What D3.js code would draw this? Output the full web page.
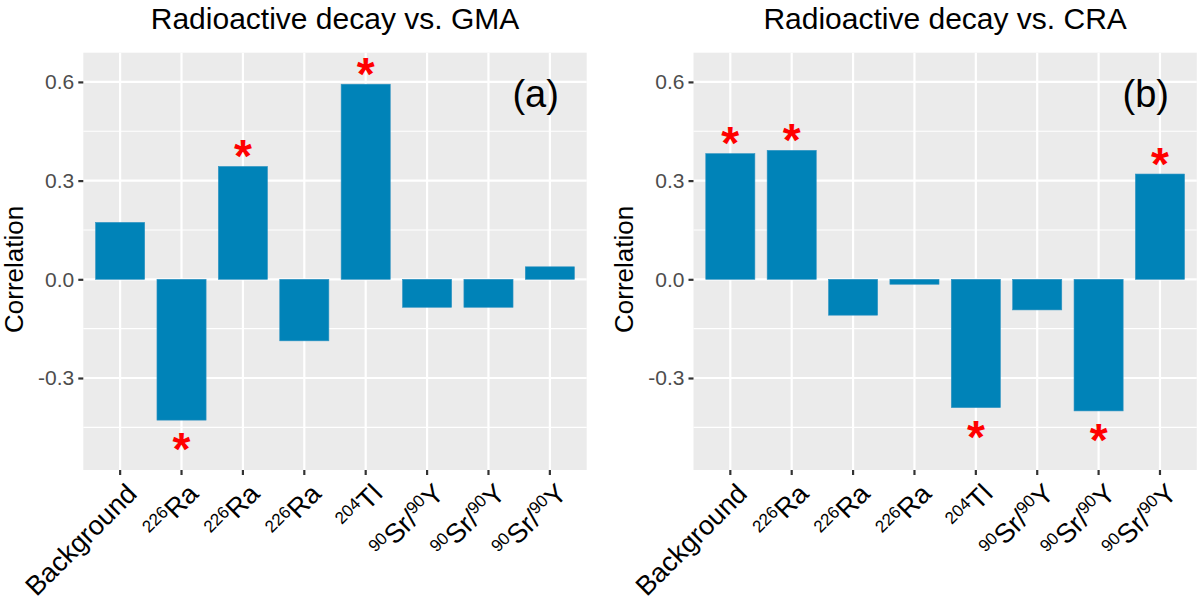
<!DOCTYPE html>
<html>
<head>
<meta charset="utf-8">
<script src="https://cdn.jsdelivr.net/npm/d3@7"></script>
<style>
  body { margin: 0; background: #fff; }
  text { font-family: "Liberation Sans", Arial, sans-serif; }
</style>
</head>
<body>
<div id="chart"></div>
<script>
// Categories (second item true = superscript)
const categories = [
    [["Background", false]],
    [["226", true], ["Ra", false]],
    [["226", true], ["Ra", false]],
    [["226", true], ["Ra", false]],
    [["204", true], ["Tl", false]],
    [["90", true], ["Sr/", false], ["90", true], ["Y", false]],
    [["90", true], ["Sr/", false], ["90", true], ["Y", false]],
    [["90", true], ["Sr/", false], ["90", true], ["Y", false]]
];

// Correlation values
const gmaValues = [0.173, -0.428, 0.343, -0.187, 0.593, -0.085, -0.085, 0.038];
const craValues = [0.382, 0.392, -0.109, -0.015, -0.390, -0.093, -0.400, 0.320];

// Significance (red asterisk)
const gmaSig = [false, true, true, false, true, false, false, false];
const craSig = [true, true, false, false, true, false, true, true];

const yTicks = [-0.3, 0.0, 0.3, 0.6];
const yMinor = [-0.45, -0.15, 0.15, 0.45];

const panels = [
    {title: "Radioactive decay vs. GMA", tag: "(a)", values: gmaValues, sig: gmaSig, left: 83.3, right: 586.7},
    {title: "Radioactive decay vs. CRA", tag: "(b)", values: craValues, sig: craSig, left: 693.5, right: 1196.8}
];

const width = 1200, height = 609;
const plotTop = 52.7, plotBottom = 470;

var svg = d3.select("#chart").append("svg")
    .attr("width", width)
    .attr("height", height);

var y = d3.scaleLinear()
    .domain([-0.5796, 0.6888])
    .range([plotBottom, plotTop]);

panels.forEach(p => {
    var g = svg.append("g");

    // ggplot style: bar width 0.8, 0.6 expansion each side
    var x = d3.scaleBand()
        .domain(d3.range(categories.length))
        .range([p.left, p.right])
        .paddingInner(0.2)
        .paddingOuter(0.2);

    // band centers
    var xc = i => x(i) + x.bandwidth() / 2;

    // Panel background
    g.append("rect")
        .attr("x", p.left).attr("y", plotTop)
        .attr("width", p.right - p.left).attr("height", plotBottom - plotTop)
        .attr("fill", "#ebebeb");

    // Minor grid
    g.selectAll(".minor").data(yMinor).enter().append("line")
        .attr("x1", p.left).attr("x2", p.right)
        .attr("y1", d => y(d)).attr("y2", d => y(d))
        .attr("stroke", "#fff").attr("stroke-width", 1.1);

    // Major grid
    g.selectAll(".major").data(yTicks).enter().append("line")
        .attr("x1", p.left).attr("x2", p.right)
        .attr("y1", d => y(d)).attr("y2", d => y(d))
        .attr("stroke", "#fff").attr("stroke-width", 2.2);

    g.selectAll(".vgrid").data(d3.range(categories.length)).enter().append("line")
        .attr("x1", d => xc(d)).attr("x2", d => xc(d))
        .attr("y1", plotTop).attr("y2", plotBottom)
        .attr("stroke", "#fff").attr("stroke-width", 2.2);

    // Bars
    g.selectAll(".bar").data(p.values).enter().append("rect")
        .attr("x", (d, i) => x(i))
        .attr("width", x.bandwidth())
        .attr("y", d => y(Math.max(0, d)))
        .attr("height", d => Math.abs(y(d) - y(0)))
        .attr("fill", "#0083b8")
        .attr("stroke", "#2f93c2")
        .attr("stroke-width", 0.6);

    // Asterisks (glyph centre about 0.555em above baseline)
    g.selectAll(".star").data(p.values.map((v, i) => ({v: v, i: i})).filter(d => p.sig[d.i]))
        .enter().append("text")
        .attr("x", d => xc(d.i))
        .attr("y", d => y(d.v + (d.v > 0 ? 0.06 : -0.06)) + 25.5)
        .attr("text-anchor", "middle")
        .attr("font-size", "46px")
        .attr("font-weight", "bold")
        .attr("fill", "#ff0000")
        .text("*");

    // Y axis
    var yAxis = g.append("g")
        .attr("transform", "translate(" + p.left + ",0)")
        .call(d3.axisLeft(y).tickValues(yTicks).tickFormat(d3.format(".1f")).tickSize(5).tickPadding(4));
    yAxis.select(".domain").remove();
    yAxis.selectAll(".tick line").attr("stroke", "#333").attr("stroke-width", 2.2);
    yAxis.selectAll(".tick text")
        .attr("font-size", "21px")
        .attr("fill", "#4d4d4d")
        .attr("font-family", "Liberation Sans, Arial, sans-serif")
        .text(d => d3.format(".1f")(d).replace("−", "-"));

    // X ticks
    g.selectAll(".xtick").data(d3.range(categories.length)).enter().append("line")
        .attr("x1", d => xc(d)).attr("x2", d => xc(d))
        .attr("y1", plotBottom).attr("y2", plotBottom + 5)
        .attr("stroke", "#333").attr("stroke-width", 2.2);

    // X labels, rotated 45 degrees
    categories.forEach((parts, i) => {
        var t = g.append("text")
            .attr("transform", "translate(" + (xc(i) + 4) + "," + (plotBottom + 11) + ") rotate(-45)")
            .attr("text-anchor", "end")
            .attr("dy", "0.75em")
            .attr("font-size", "27px")
            .attr("fill", "#000");
        parts.forEach(part => {
            var s = t.append("tspan").text(part[0]);
            if (part[1]) s.attr("font-size", "17px").style("baseline-shift", "9px");
        });
    });

    // Y label
    g.append("text")
        .attr("transform", "translate(" + (p.left - 60.5) + "," + ((plotTop + plotBottom) / 2 + 8) + ") rotate(-90)")
        .attr("text-anchor", "middle")
        .attr("font-size", "26px")
        .attr("fill", "#000")
        .text("Correlation");

    // Title
    g.append("text")
        .attr("x", (p.left + p.right) / 2)
        .attr("y", 29)
        .attr("text-anchor", "middle")
        .attr("font-size", "30px")
        .attr("fill", "#000")
        .text(p.title);

    // Panel tag
    g.append("text")
        .attr("x", p.right - 51)
        .attr("y", 107)
        .attr("text-anchor", "middle")
        .attr("font-size", "38px")
        .attr("fill", "#000")
        .text(p.tag);
});
</script>
</body>
</html>
